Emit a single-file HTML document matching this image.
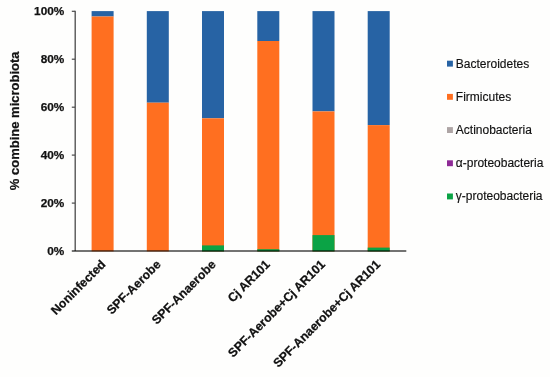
<!DOCTYPE html>
<html><head><meta charset="utf-8"><title>chart</title>
<style>
html,body{margin:0;padding:0;background:#fff;}
body{width:550px;height:377px;overflow:hidden;}
svg{display:block;font-family:"Liberation Sans",Arial,sans-serif;}
.b{font-weight:bold;fill:#111;stroke:#111;stroke-width:0.25px;}
.l{fill:#111;font-size:12px;stroke:#111;stroke-width:0.15px;}
</style></head><body>
<svg width="550" height="377" viewBox="0 0 550 377">
<rect width="550" height="377" fill="#fefefd"/>

<rect x="91.6" y="11.1" width="22.0" height="5.4" fill="#2763a4"/>
<rect x="91.6" y="16.5" width="22.0" height="234.9" fill="#ff6f20"/>
<rect x="146.8" y="11.1" width="22.0" height="91.6" fill="#2763a4"/>
<rect x="146.8" y="102.7" width="22.0" height="148.7" fill="#ff6f20"/>
<rect x="202.0" y="11.1" width="22.0" height="107.2" fill="#2763a4"/>
<rect x="202.0" y="118.3" width="22.0" height="133.1" fill="#ff6f20"/>
<rect x="202.0" y="245.4" width="22.0" height="6.0" fill="#0ba345"/>
<rect x="257.3" y="11.1" width="22.0" height="29.9" fill="#2763a4"/>
<rect x="257.3" y="41.0" width="22.0" height="210.4" fill="#ff6f20"/>
<rect x="257.3" y="249.2" width="22.0" height="2.2" fill="#0ba345"/>
<rect x="312.5" y="11.1" width="22.0" height="100.3" fill="#2763a4"/>
<rect x="312.5" y="111.4" width="22.0" height="140.0" fill="#ff6f20"/>
<rect x="312.5" y="235.1" width="22.0" height="16.3" fill="#0ba345"/>
<rect x="367.7" y="11.1" width="22.0" height="114.0" fill="#2763a4"/>
<rect x="367.7" y="125.1" width="22.0" height="126.3" fill="#ff6f20"/>
<rect x="367.7" y="247.6" width="22.0" height="3.8" fill="#0ba345"/>
<path d="M75.2 10.8V251.0" stroke="#4a4a4a" stroke-width="1.3" fill="none"/>
<path d="M71.8 251.0H406.3" stroke="#444" stroke-width="1.4" fill="none" style="mix-blend-mode:multiply"/>
<path d="M71.8 11.3H75.0" stroke="#4a4a4a" stroke-width="1.2"/>
<text class="b" x="64.3" y="15.2" text-anchor="end" font-size="11.8">100%</text>
<path d="M71.8 59.2H75.0" stroke="#4a4a4a" stroke-width="1.2"/>
<text class="b" x="64.3" y="63.1" text-anchor="end" font-size="11.8">80%</text>
<path d="M71.8 107.2H75.0" stroke="#4a4a4a" stroke-width="1.2"/>
<text class="b" x="64.3" y="111.1" text-anchor="end" font-size="11.8">60%</text>
<path d="M71.8 155.1H75.0" stroke="#4a4a4a" stroke-width="1.2"/>
<text class="b" x="64.3" y="159.0" text-anchor="end" font-size="11.8">40%</text>
<path d="M71.8 203.1H75.0" stroke="#4a4a4a" stroke-width="1.2"/>
<text class="b" x="64.3" y="207.0" text-anchor="end" font-size="11.8">20%</text>
<text class="b" x="64.3" y="254.9" text-anchor="end" font-size="11.8">0%</text>
<text class="b" font-size="13" text-anchor="middle" transform="translate(18.7,120.8) rotate(-90)">% combine microbiota</text>
<text class="b" font-size="12.3" text-anchor="end" transform="translate(106.3,265.2) rotate(-45)">Noninfected</text>
<text class="b" font-size="12.3" text-anchor="end" transform="translate(161.5,265.2) rotate(-45)">SPF-Aerobe</text>
<text class="b" font-size="12.3" text-anchor="end" transform="translate(216.7,265.2) rotate(-45)">SPF-Anaerobe</text>
<text class="b" font-size="12.3" text-anchor="end" transform="translate(270.6,265.2) rotate(-45)">Cj AR101</text>
<text class="b" font-size="12.3" text-anchor="end" transform="translate(325.8,265.2) rotate(-45)">SPF-Aerobe+Cj AR101</text>
<text class="b" font-size="12.3" text-anchor="end" transform="translate(381.0,265.2) rotate(-45)">SPF-Anaerobe+Cj AR101</text>
<rect x="447.0" y="60.70" width="5.9" height="5.9" fill="#2763a4"/>
<text class="l" x="455.8" y="67.60">Bacteroidetes</text>
<rect x="447.0" y="93.90" width="5.9" height="5.9" fill="#ff6f20"/>
<text class="l" x="455.8" y="100.80">Firmicutes</text>
<rect x="447.0" y="127.10" width="5.9" height="5.9" fill="#aea5a5"/>
<text class="l" x="455.8" y="134.00">Actinobacteria</text>
<rect x="447.0" y="160.30" width="5.9" height="5.9" fill="#8e2a96"/>
<text class="l" x="455.8" y="167.20">α-proteobacteria</text>
<rect x="447.0" y="193.50" width="5.9" height="5.9" fill="#0ba345"/>
<text class="l" x="455.8" y="200.40">γ-proteobacteria</text>
</svg></body></html>
